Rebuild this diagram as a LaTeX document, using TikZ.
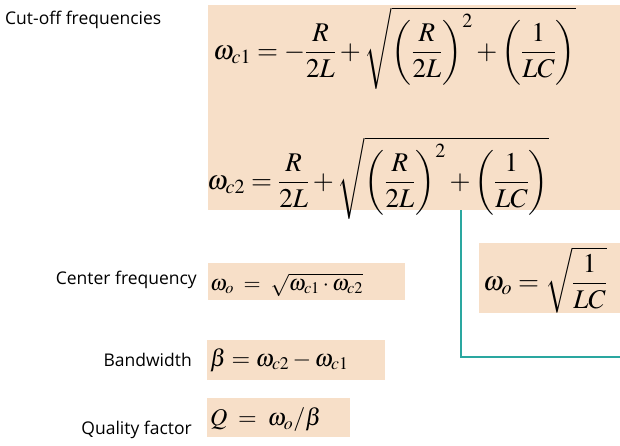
\documentclass[tikz,border=0pt]{standalone}
\usepackage{amsmath}
\usepackage{mathptmx}
\usepackage{fontspec}
\setsansfont{Open Sans}
\begin{document}
\begin{tikzpicture}[x=1pt,y=-1pt,
  lab/.style={font=\sffamily\fontsize{17.5}{20}\selectfont,anchor=east,inner sep=0},
  eq/.style={font=\fontsize{27}{30}\selectfont,anchor=west,inner sep=0}]
\definecolor{boxc}{HTML}{F7DFC8}
\definecolor{tealc}{HTML}{2AA7A0}
\clip (0,0) rectangle (620,445);
\useasboundingbox (0,0) rectangle (620,445);
\fill[white] (0,0) rectangle (620,445);
\fill[boxc] (208,5) rectangle (620,210);
\fill[boxc] (479,243) rectangle (620,313);
\fill[boxc] (208,263) rectangle (405,300);
\fill[boxc] (207,340) rectangle (385,380);
\fill[boxc] (207,398) rectangle (350,437);
\coordinate (t0) at (461,210);
\coordinate (t1) at (461,357);
\coordinate (t2) at (620,357);
\draw[tealc,line width=1.2pt] (t0) -- (t1) -- (t2);
\node[lab,anchor=west] (l1) at (5,20) {Cut-off frequencies};
\node[lab] (l2) at (197,280) {Center frequency};
\node[lab] (l3) at (192,360) {Bandwidth};
\node[lab] (l4) at (192,430) {Quality factor};
\node[eq] (e1) at (213,48) {$\omega_{c1} = -\dfrac{R}{2L} + \sqrt{\left(\dfrac{R}{2L}\right)^{2} + \left(\dfrac{1}{LC}\right)}$};
\node[eq] (e2) at (207,178) {$\omega_{c2} = \dfrac{R}{2L} + \sqrt{\left(\dfrac{R}{2L}\right)^{2} + \left(\dfrac{1}{LC}\right)}$};
\node[eq,font=\fontsize{22}{26}\selectfont] (e3) at (210,285) {$\omega_{o} \;=\; \sqrt{\omega_{c1}\cdot\omega_{c2}}$};
\node[eq] (e4) at (483,280) {$\omega_{o} = \sqrt{\dfrac{1}{LC}}$};
\node[eq,font=\fontsize{24}{28}\selectfont] (e5) at (210,360) {$\beta = \omega_{c2} - \omega_{c1}$};
\node[eq,font=\fontsize{24}{28}\selectfont] (e6) at (210,420) {$Q \;=\; \omega_{o}/\beta$};
\end{tikzpicture}
\end{document}
